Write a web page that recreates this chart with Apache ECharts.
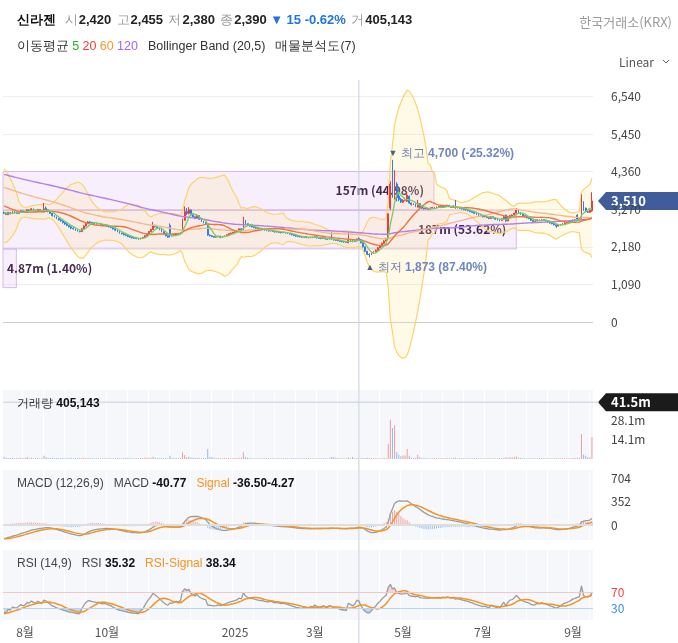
<!DOCTYPE html>
<html>
<head>
<meta charset="utf-8">
<script src="https://cdn.jsdelivr.net/npm/echarts@6.0.0/dist/echarts.min.js"></script>
<style>
html,body{margin:0;padding:0;background:#fff;}
#chart{width:678px;height:643px;}
</style>
</head>
<body>
<div id="chart"></div>
<script>
// ================= DATA =================
const firstDay = '2024-07-18';
const tradingDays = 281;
const holidays = ['2024-08-15','2024-09-16','2024-09-17','2024-09-18','2024-10-01','2024-10-03','2024-10-09','2024-12-25','2024-12-31','2025-01-01','2025-01-27','2025-01-28','2025-01-29','2025-01-30','2025-03-03','2025-05-01','2025-05-05','2025-05-06','2025-06-03','2025-06-06','2025-08-15'];
const labelMonths = ['2024-08','2024-10','2025-01','2025-03','2025-05','2025-07','2025-09'];

// closes before the visible window (estimated from where MA20/60/120 and the band start)
const priorCloses = [5100,5060,5120,5080,5020,4990,5040,5000,4960,4930,4980,4950,4900,4870,4920,4880,4840,4810,4860,4820,4780,4750,4800,4760,4720,4700,4740,4700,4660,4630,4680,4640,4600,4580,4620,4590,4550,4520,4560,4530,4490,4470,4510,4480,4440,4420,4460,4430,4390,4370,4410,4380,4340,4320,4360,4330,4290,4270,4300,4260,
4450,4420,4460,4400,4380,4410,4360,4340,4370,4320,4300,4330,4280,4260,4290,4240,4220,4250,4200,4180,4210,4160,4140,4170,4120,4100,4130,4080,4060,4090,4040,4020,4050,4000,3980,4010,3960,3940,3970,3920,
3750,3700,3720,3680,3650,3620,3600,3580,
3400,3300,3250,3220,3200,3230,3180,3200,3170,3190,3160,3180];

// [open, close, low, high]
const candles = [
[3180,3150,3130,3200],[3160,3120,3100,3170],[3110,3180,3100,3190],[3170,3140,3120,3180],[3140,3200,3130,3220],
[3200,3170,3150,3210],[3170,3150,3130,3180],[3150,3190,3140,3200],[3190,3220,3180,3240],[3220,3180,3170,3230],
[3180,3200,3170,3220],[3200,3250,3190,3270],[3250,3230,3210,3260],[3230,3280,3220,3300],[3280,3240,3230,3290],
[3240,3210,3200,3250],[3210,3260,3200,3280],[3260,3230,3220,3270],[3230,3190,3180,3240],[3190,3280,3180,3450],
[3300,3250,3230,3350],[3250,3200,3180,3260],[3200,3150,3130,3210],[3150,3080,3060,3160],[3080,3050,3030,3100],
[3050,3000,2980,3060],[3000,2960,2940,3020],[2960,2930,2910,2980],[2930,2880,2860,2940],[2880,2840,2820,2900],
[2840,2800,2780,2860],[2800,2760,2740,2810],[2760,2720,2700,2780],[2720,2700,2680,2740],[2700,2660,2640,2710],
[2660,2640,2620,2680],[2640,2620,2600,2650],[2620,2700,2610,2720],[2700,2780,2690,2800],[2780,2850,2770,2870],
[2850,2900,2840,2930],[2900,2890,2870,2920],[2890,2870,2850,2900],[2870,2860,2840,2890],[2860,2840,2820,2870],
[2840,2850,2830,2870],[2850,2820,2800,2860],[2820,2800,2780,2830],[2800,2810,2790,2830],[2810,2780,2760,2820],
[2780,2760,2740,2790],[2760,2740,2720,2770],[2740,2700,2680,2750],[2700,2660,2640,2710],[2660,2620,2600,2670],
[2620,2580,2560,2630],[2580,2560,2540,2590],[2560,2530,2510,2570],[2530,2510,2490,2540],[2510,2480,2460,2520],
[2480,2460,2440,2490],[2460,2440,2420,2470],[2440,2430,2410,2450],[2430,2420,2400,2440],[2420,2400,2380,2430],
[2400,2430,2390,2440],[2430,2450,2420,2470],[2450,2500,2440,2510],[2500,2560,2490,2570],[2560,2620,2550,2640],
[2620,2680,2610,2700],[2680,2800,2670,2900],[2800,2760,2740,2820],[2760,2720,2700,2770],[2720,2680,2660,2730],
[2680,2620,2600,2690],[2620,2560,2540,2630],[2560,2500,2480,2570],[2500,2460,2440,2510],[2800,2520,2450,2860],
[2520,2500,2480,2540],[2500,2530,2490,2550],[2530,2550,2520,2570],[2550,2540,2520,2560],[2540,2570,2530,2590],
[2580,2950,2570,3000],[2950,3200,2940,3350],[3200,3150,3100,3300],[3150,3250,3120,3330],[3250,3100,3080,3260],
[3100,3050,3020,3120],[3050,3000,2980,3060],[3000,3080,2990,3120],[3080,2980,2960,3090],[2980,2920,2900,2990],
[2920,2880,2860,2930],[2880,2850,2830,2890],[2850,2520,2500,2860],[2520,2500,2480,2540],[2500,2480,2460,2510],
[2480,2460,2440,2490],[2460,2470,2450,2490],[2470,2490,2460,2500],[2490,2450,2430,2500],[2450,2480,2440,2490],
[2480,2500,2470,2510],[2500,2530,2490,2540],[2530,2560,2520,2570],[2560,2580,2550,2590],[2580,2600,2570,2610],
[2600,2620,2590,2630],[2620,2650,2610,2660],[2650,2700,2640,2710],[2700,2680,2660,2720],[2680,2950,2670,3050],
[2950,2850,2830,2960],[2850,2800,2780,2860],[2800,2780,2760,2810],[2780,2760,2740,2790],[2760,2740,2720,2770],
[2740,2720,2700,2750],[2720,2700,2680,2730],[2700,2680,2660,2710],[2680,2690,2670,2700],[2690,2660,2640,2700],
[2660,2650,2630,2670],[2650,2640,2620,2660],[2640,2660,2630,2670],[2660,2630,2610,2670],[2630,2610,2590,2640],
[2610,2620,2600,2640],[2620,2600,2580,2630],[2600,2590,2570,2610],[2590,2600,2580,2620],[2600,2580,2560,2610],
[2580,2570,2550,2590],[2570,2550,2530,2580],[2550,2530,2510,2560],[2530,2510,2490,2540],[2510,2490,2470,2520],
[2490,2480,2460,2500],[2480,2470,2450,2490],[2470,2460,2440,2480],[2460,2480,2450,2490],[2480,2450,2430,2490],
[2450,2440,2420,2460],[2440,2460,2430,2470],[2460,2450,2430,2470],[2450,2470,2440,2480],[2470,2440,2420,2480],
[2440,2430,2410,2450],[2430,2420,2400,2440],[2420,2440,2410,2450],[2440,2410,2390,2450],[2410,2400,2380,2420],
[2400,2420,2390,2430],[2580,2400,2380,2600],[2400,2380,2360,2410],[2380,2370,2350,2390],[2370,2360,2340,2380],
[2360,2340,2320,2370],[2340,2330,2310,2350],[2330,2320,2300,2340],[2320,2310,2290,2330],[2300,2380,2280,2600],
[2380,2360,2340,2390],[2360,2330,2310,2370],[2330,2350,2320,2370],[2350,2405,2340,2420],[2420,2390,2380,2455],
[2390,2300,2280,2400],[2300,2180,2160,2310],[2180,2050,2030,2190],[2050,1960,1940,2060],[1960,1950,1873,1990],
[1950,1990,1940,2010],[1990,2040,1980,2060],[2040,2080,2030,2100],[2080,2150,2070,2170],[2150,2200,2140,2220],
[2200,2280,2190,2300],[2280,2350,2270,2370],[2350,2420,2340,2440],[2450,3140,2440,3140],[3300,4000,3250,4080],
[4400,3700,3600,4700],[3700,4000,3550,4400],[4000,3600,3500,4050],[3650,3550,3500,3800],[3560,3480,3450,3600],
[3470,3520,3450,3560],[3520,3560,3500,3600],[3500,3680,3480,3750],[3650,3450,3430,3660],[3450,3400,3380,3460],
[3400,3420,3390,3440],[3420,3350,3330,3430],[3330,3430,3320,3540],[3430,3330,3310,3440],[3330,3300,3280,3340],
[3300,3280,3260,3310],[3280,3290,3270,3310],[3290,3270,3250,3300],[3270,3300,3260,3320],[3300,3320,3290,3340],
[3320,3300,3280,3330],[3300,3330,3290,3350],[3330,3350,3320,3370],[3350,3320,3300,3360],[3320,3360,3310,3380],
[3360,3340,3320,3370],[3340,3380,3330,3400],[3380,3350,3330,3390],[3350,3330,3310,3360],[3330,3360,3320,3380],
[3450,3300,3280,3540],[3300,3320,3290,3340],[3320,3300,3280,3330],[3300,3280,3260,3310],[3280,3260,3240,3290],
[3260,3250,3230,3270],[3250,3230,3210,3260],[3230,3200,3180,3240],[3200,3180,3160,3210],[3180,3150,3130,3190],
[3150,3120,3100,3160],[3120,3100,3080,3130],[3100,3080,3060,3110],[3080,3050,3030,3090],[3050,3060,3040,3080],
[3060,3030,3010,3070],[3030,3000,2980,3040],[3000,3050,2990,3070],[3050,3020,3000,3060],[3020,2980,2960,3030],
[2980,2960,2940,2990],[2960,2940,2920,2970],[2940,2990,2930,3010],[2990,3050,2980,3070],[3100,2930,2910,3110],
[2930,3020,2920,3040],[3020,3080,3010,3100],[3080,3100,3070,3120],[3100,3150,3090,3170],[3150,3250,3140,3300],
[3250,3180,3160,3260],[3180,3120,3100,3190],[3120,3080,3060,3130],[3080,3050,3030,3090],[3050,3020,3000,3060],
[3020,3000,2980,3030],[3000,2950,2930,3010],[2950,2920,2900,2960],[2920,2930,2910,2950],[2930,2960,2920,2980],
[2960,2940,2920,2970],[2940,2970,2930,2990],[2970,2950,2930,2980],[2950,2930,2910,2960],[2930,2900,2880,2940],
[2900,2870,2850,2910],[2870,2850,2830,2880],[2850,2820,2800,2860],[2820,2780,2730,2830],[2780,2800,2770,2820],
[2800,2820,2790,2840],[2820,2850,2810,2870],[2850,2870,2840,2890],[2870,2880,2860,2900],[2880,2900,2870,2920],
[2900,2920,2890,2940],[2920,2950,2910,2970],[2950,2960,2940,2980],[3100,2980,2960,3120],[2980,2990,2970,3010],
[3000,3600,2980,3700],[3450,3250,3220,3500],[3300,3200,3180,3320],[3200,3180,3160,3230],[3180,3240,3170,3260],
[3220,3510,3200,3760]
];

// volume, millions of shares
const volumes = [
1.5,0.9,0.8,0.7,0.9,0.6,0.7,0.8,0.9,0.7, 0.8,1.5,0.7,0.9,0.6,0.7,0.8,0.6,0.7,2.4,
1.2,0.8,0.7,0.9,0.6,0.7,0.6,0.5,0.7,0.6, 0.6,0.7,1.0,0.6,0.5,0.6,0.7,0.8,0.9,0.7,
0.8,0.6,0.5,0.6,0.5,0.6,0.5,0.6,0.5,0.6, 0.5,0.6,0.5,0.6,0.7,0.6,0.5,0.6,0.7,1.0,
0.6,0.5,0.6,0.7,0.6,0.7,0.8,1.0,1.1,1.0, 0.9,1.6,0.9,0.7,0.6,0.7,0.6,0.7,0.6,2.4,
0.9,0.8,0.7,0.6,0.8,4.9,2.9,1.4,1.6,1.1, 0.9,0.8,0.9,0.7,0.6,0.6,0.7,7.3,1.5,1.4,
1.0,0.8,0.7,0.6,0.6,0.7,0.6,0.7,0.6,0.7, 0.8,0.7,0.9,1.0,4.9,1.5,0.9,0.7,0.6,0.6,
0.6,0.5,0.6,0.5,0.5,0.6,0.5,0.5,0.6,0.5, 0.5,0.5,0.6,0.5,0.5,0.5,0.6,0.5,0.5,0.5,
0.5,0.6,0.5,0.5,0.5,0.5,0.6,0.5,0.5,0.5, 0.5,0.5,0.6,0.5,0.5,0.6,1.5,1.2,1.0,0.8,
0.6,0.6,0.5,0.6,1.2,0.7,1.5,0.6,0.7,0.405, 0.6,0.7,0.8,0.9,0.8,0.6,0.5,0.5,0.6,0.6,
0.6,0.7,0.8,11,28.6,22.7,24.4,5.1,3.2,2.0, 2.5,2.5,7.3,2.4,1.0,0.8,0.8,3.1,1.2,0.8,
0.7,0.6,0.6,0.6,0.6,0.6,0.6,0.6,0.6,0.7, 0.6,0.7,0.6,0.6,0.7,1.0,0.6,0.5,0.5,0.5,
0.5,0.5,0.5,0.5,0.5,0.5,0.5,0.5,0.5,0.5, 0.5,0.5,0.6,0.5,0.5,0.5,0.5,0.6,0.8,1.2,
1.0,1.3,1.1,1.2,1.8,1.0,0.8,0.6,0.6,0.5, 0.5,0.5,0.5,0.5,0.5,0.5,0.5,0.5,0.5,0.5,
0.5,0.5,0.5,0.6,0.5,0.5,0.5,0.5,0.5,0.6, 0.6,0.7,0.8,1.0,0.8,18.2,3.2,2.4,1.2,1.2,
16
];

// volume profile (매물분석도 7) — price bins with volume
const profileLow  = [997, 2119, 3242];
const profileHigh = [2119, 3242, 4364];
const profileVol  = [4.87, 187, 157];     // millions
const profilePct  = [1.40, 53.62, 44.98];

const priceTicks  = [0,1090,2180,3270,4360,5450,6540];
const volumeTicks = [14.1, 28.1];
const macdTicks   = [0,352,704];
const rsiTicks    = [30,70];

// hovered (crosshair) day and header readout
const hoverIndex = 169;
const hoverVolumeLevel = 41.5;
const header = {name:'신라젠', open:'2,420', high:'2,455', low:'2,380', close:'2,390', chg:'▼ 15 -0.62%', vol:'405,143'};
const macdReadout = {macd:'-40.77', signal:'-36.50', osc:'-4.27'};
const rsiReadout = {rsi:'35.32', signal:'38.34'};

// ================= BUILD =================
function buildDates(start, n, hol) {
  const hs = new Set(hol); const out = [];
  const d = new Date(start + 'T00:00:00Z');
  while (out.length < n) {
    const wd = d.getUTCDay();
    const s = d.toISOString().slice(0,10);
    if (wd !== 0 && wd !== 6 && !hs.has(s)) out.push(s);
    d.setUTCDate(d.getUTCDate()+1);
  }
  return out;
}
const categories = buildDates(firstDay, tradingDays, holidays);
const labelIdx = new Set();
labelMonths.forEach(m => { const i = categories.findIndex(c => c.startsWith(m)); if (i >= 0) labelIdx.add(i); });

const P = priorCloses.length;
const allClose = priorCloses.concat(candles.map(c => c[1]));
function sma(n) {
  return candles.map((_, i) => { const j = i + P; let s = 0; for (let k = j-n+1; k <= j; k++) s += allClose[k]; return +(s/n).toFixed(2); });
}
const ma5 = sma(5), ma20 = sma(20), ma60 = sma(60), ma120 = sma(120);
const bbUp = [], bbLo = [];
candles.forEach((_, i) => {
  const j = i + P; const m = ma20[i]; let v = 0;
  for (let k = j-19; k <= j; k++) v += (allClose[k]-m)*(allClose[k]-m);
  const sd = Math.sqrt(v/20);
  bbUp.push(+(m + 5*sd).toFixed(2)); bbLo.push(+(m - 5*sd).toFixed(2));
});
// MACD 12,26,9
let e12 = allClose[0], e26 = allClose[0], sig = 0; const macdAll = [], sigAll = [];
allClose.forEach((c, k) => {
  e12 += (c - e12) * 2/13; e26 += (c - e26) * 2/27;
  const m = e12 - e26; sig = k === 0 ? m : sig + (m - sig) * 2/10;
  macdAll.push(m); sigAll.push(sig);
});
const macd = macdAll.slice(P).map(v => +v.toFixed(2));
const macdSig = sigAll.slice(P).map(v => +v.toFixed(2));
const macdHist = macd.map((v, i) => +(v - macdSig[i]).toFixed(2));
// RSI 14 (Wilder), signal 9
const rsiAll = new Array(allClose.length).fill(null);
let ag = 0, al = 0;
for (let k = 1; k < allClose.length; k++) {
  const ch = allClose[k] - allClose[k-1]; const g = Math.max(ch,0), l = Math.max(-ch,0);
  if (k <= 14) { ag += g/14; al += l/14; if (k === 14) rsiAll[k] = 100 - 100/(1 + ag/(al||1e-9)); }
  else { ag = (ag*13 + g)/14; al = (al*13 + l)/14; rsiAll[k] = 100 - 100/(1 + ag/(al||1e-9)); }
}
const rsiSigAll = rsiAll.map((v, k) => { if (k < 22) return null; let s = 0; for (let q = k-8; q <= k; q++) s += rsiAll[q]; return s/9; });
const rsi = rsiAll.slice(P).map(v => +v.toFixed(2));
const rsiSig = rsiSigAll.slice(P).map(v => +v.toFixed(2));
const rsiHigh = rsi.map(v => Math.max(v, 70));
const rsiLow = rsi.map(v => Math.min(v, 30));

const UP = '#ee3a3a', DOWN = '#2b7fe6';
const FONT = '"Noto Sans CJK KR","Noto Sans",sans-serif';
const fmt = v => Math.round(v).toLocaleString('en-US');

const GL = 3, GR = 85;
const grids = [
  {left:GL, right:GR, top:80, height:305},
  {left:GL, right:GR, top:390, height:69, show:true, backgroundColor:'#f6f7fb', borderWidth:0},
  {left:GL, right:GR, top:470, height:70, show:true, backgroundColor:'#f6f7fb', borderWidth:0},
  {left:GL, right:GR, top:550, height:70, show:true, backgroundColor:'#f6f7fb', borderWidth:0}
];
function catAxis(gi) {
  return {
    type:'category', gridIndex:gi, data:categories, boundaryGap:true,
    axisLine:{show:false}, axisTick:{show:false},
    axisLabel: gi === 3 ? {
      show:true, margin:6, color:'#555', fontSize:12, fontFamily:FONT,
      interval:(i) => labelIdx.has(i),
      formatter:(v) => { const m = +v.slice(5,7); return m === 1 ? v.slice(0,4) : m + '월'; }
    } : {show:false},
    splitLine: gi === 0 ? {show:false} : {show:true, interval:(i) => i % 10 === 9, lineStyle:{color:'#ffffff', width:1}}
  };
}
const maxProfile = Math.max(...profileVol);

const option = {
  animation:false,
  textStyle:{fontFamily:FONT},
  grid:grids,
  xAxis:[catAxis(0), catAxis(1), catAxis(2), catAxis(3),
    {type:'value', gridIndex:0, min:0, max:maxProfile/0.87, show:false}],
  yAxis:[
    {type:'value', gridIndex:0, position:'right', min:-1826, max:7015,
     axisLine:{show:false}, axisTick:{show:false, customValues:priceTicks},
     axisLabel:{customValues:priceTicks, margin:18, color:'#444', fontSize:12, formatter:fmt},
     splitLine:{show:true, lineStyle:{color:['#cfcfcf','#eeeeee','#eeeeee','#eeeeee','#eeeeee','#eeeeee','#eeeeee'], width:1}}},
    {type:'value', gridIndex:1, position:'right', min:0, max:50.4,
     axisLine:{show:false}, axisTick:{show:false, customValues:volumeTicks},
     axisLabel:{customValues:volumeTicks, margin:18, color:'#444', fontSize:12, formatter:v => v + 'm'},
     splitLine:{show:false}},
    {type:'value', gridIndex:2, position:'right', min:-226, max:830,
     axisLine:{show:false}, axisTick:{show:false, customValues:macdTicks},
     axisLabel:{customValues:macdTicks, margin:18, color:'#444', fontSize:12},
     splitLine:{show:false}},
    {type:'value', gridIndex:3, position:'right', min:0, max:175,
     axisLine:{show:false}, axisTick:{show:false, customValues:rsiTicks},
     axisLabel:{customValues:rsiTicks, margin:18, fontSize:12, color:(v) => (+v >= 50 ? '#ef4444' : '#3b8cf0')},
     splitLine:{show:false}}
  ],
  series:[
    {type:'custom', name:'profile', xAxisIndex:4, yAxisIndex:0, z:1, silent:true,
     data: profileLow.map((lo, i) => [profileVol[i], lo, profileHigh[i], profilePct[i]]),
     renderItem:(params, api) => {
       const vol = api.value(0), lo = api.value(1), hi = api.value(2), pct = api.value(3);
       const cs = params.coordSys;
       const pTop = api.coord([vol, hi]), pBot = api.coord([vol, lo]);
       const x0 = cs.x, w = pTop[0] - x0, y0 = pTop[1], h = pBot[1] - pTop[1];
       const volTxt = (vol >= 100 ? Math.round(vol) : vol.toFixed(2)) + 'm';
       const txt = volTxt + ' (' + pct.toFixed(2) + '%)';
       const wide = w > 110;
       return {type:'group', children:[
         {type:'rect', shape:{x:x0, y:y0, width:w, height:h},
          style:{fill:'rgba(226,196,242,0.28)', stroke:'rgba(205,165,228,0.75)', lineWidth:1}},
         {type:'text', x: wide ? x0 + w - 10 : x0 + 4, y: y0 + h/2,
          style:{text:txt, align: wide ? 'right' : 'left', verticalAlign:'middle', fill:'#46294f',
                 font:'bold 12px ' + FONT}}
       ]};
     }},
    {type:'line', name:'bbBase', data:bbLo, stack:'bb', stackStrategy:'all', symbol:'none', lineStyle:{width:0, opacity:0}, silent:true, z:2},
    {type:'line', name:'bbFill', data:bbUp.map((u, i) => +(u - bbLo[i]).toFixed(2)), stack:'bb', stackStrategy:'all', symbol:'none',
     lineStyle:{width:0, opacity:0}, areaStyle:{color:'rgba(255,225,140,0.28)'}, silent:true, z:2},
    {type:'line', name:'bbUpper', data:bbUp, symbol:'none', lineStyle:{color:'#fbd46a', width:1.2}, silent:true, z:3},
    {type:'line', name:'bbLower', data:bbLo, symbol:'none', lineStyle:{color:'#fbd46a', width:1.2}, silent:true, z:3},
    {type:'candlestick', name:'price', data:candles, barWidth:'62%', z:4,
     itemStyle:{color:UP, color0:DOWN, borderColor:UP, borderColor0:DOWN, borderWidth:1}},
    {type:'line', name:'MA120', data:ma120, symbol:'none', lineStyle:{color:'#b27ff0', width:1.4}, z:5},
    {type:'line', name:'MA60', data:ma60, symbol:'none', lineStyle:{color:'#f8b888', width:1.4}, z:5},
    {type:'line', name:'MA20', data:ma20, symbol:'none', lineStyle:{color:'#f2713c', width:1.4}, z:5},
    {type:'line', name:'MA5', data:ma5, symbol:'none', lineStyle:{color:'#6fd06a', width:1.3}, z:5},
    {type:'bar', name:'volume', xAxisIndex:1, yAxisIndex:1, barWidth:1,
     data: volumes.map((v, i) => ({value:v, itemStyle:{color: candles[i][1] >= candles[i][0] ? '#f09c9c' : '#8fbcf0'}}))},
    {type:'bar', name:'macdHist', xAxisIndex:2, yAxisIndex:2, barWidth:1,
     data: macdHist.map(v => ({value:v, itemStyle:{color: v >= 0 ? '#f2a3a3' : '#94c0f2'}})),
     markLine:{silent:true, symbol:'none', label:{show:false}, lineStyle:{color:'#dedede', width:2, type:'solid'}, data:[{yAxis:0}]}},
    {type:'line', name:'MACD', xAxisIndex:2, yAxisIndex:2, data:macd, symbol:'none', lineStyle:{color:'#9c9c9c', width:1.3}},
    {type:'line', name:'Signal', xAxisIndex:2, yAxisIndex:2, data:macdSig, symbol:'none', lineStyle:{color:'#f7931e', width:1.5}},
    {type:'line', name:'rsiOver', xAxisIndex:3, yAxisIndex:3, data:rsiHigh, symbol:'none', lineStyle:{width:0, opacity:0},
     areaStyle:{color:'rgba(240,150,165,0.55)', origin:70}, silent:true,
     markLine:{silent:true, symbol:'none', label:{show:false}, data:[
       {yAxis:70, lineStyle:{color:'#f6c6c6', width:1, type:'solid'}},
       {yAxis:30, lineStyle:{color:'#bcd4f4', width:1, type:'solid'}}]}},
    {type:'line', name:'rsiUnder', xAxisIndex:3, yAxisIndex:3, data:rsiLow, symbol:'none', lineStyle:{width:0, opacity:0},
     areaStyle:{color:'rgba(110,160,225,0.55)', origin:30}, silent:true},
    {type:'line', name:'RSI', xAxisIndex:3, yAxisIndex:3, data:rsi, symbol:'none', lineStyle:{color:'#9c9c9c', width:1.3}},
    {type:'line', name:'RSI-Signal', xAxisIndex:3, yAxisIndex:3, data:rsiSig, symbol:'none', lineStyle:{color:'#f7931e', width:1.5}}
  ]
};

const chart = echarts.init(document.getElementById('chart'), null, {renderer:'canvas'});
chart.setOption(option);

// ---------- overlays positioned from data ----------
const lastIdx = candles.length - 1;
const lastClose = candles[lastIdx][1];
let hiIdx = 0, loIdx = 0;
candles.forEach((c, i) => { if (c[3] > candles[hiIdx][3]) hiIdx = i; if (c[2] < candles[loIdx][2]) loIdx = i; });
const hiVal = candles[hiIdx][3], loVal = candles[loIdx][2];
const pctFrom = v => ((lastClose - v) / v * 100).toFixed(2);

const hx = chart.convertToPixel({xAxisIndex:0}, categories[hoverIndex]);
const vy = chart.convertToPixel({yAxisIndex:1}, hoverVolumeLevel);
const py = chart.convertToPixel({yAxisIndex:0}, lastClose);
const hiPt = chart.convertToPixel({xAxisIndex:0, yAxisIndex:0}, [categories[hiIdx], hiVal]);
const loPt = chart.convertToPixel({xAxisIndex:0, yAxisIndex:0}, [categories[loIdx], loVal]);
const gridRight = 678 - GR;

function tag(y, color, text) {
  return {type:'group', z:100, children:[
    {type:'polygon', shape:{points:[[gridRight+5, y],[gridRight+13, y-9],[678, y-9],[678, y+9],[gridRight+13, y+9]]}, style:{fill:color}},
    {type:'text', x:gridRight+18, y:y, style:{text:text, fill:'#fff', font:'bold 13px ' + FONT, verticalAlign:'middle'}}
  ]};
}
const K = '#9a9a9a';
chart.setOption({graphic:[
  {type:'line', z:1, shape:{x1:hx, y1:80, x2:hx, y2:643}, style:{stroke:'#c8cedd', lineWidth:1}},
  {type:'line', z:1, shape:{x1:GL, y1:vy, x2:gridRight + 6, y2:vy}, style:{stroke:'#c8cedd', lineWidth:1}},
  tag(vy, '#1b1b1b', hoverVolumeLevel + 'm'),
  tag(py, '#405c9a', fmt(lastClose)),
  {type:'text', z:50, x:hiPt[0] - 4, y:hiPt[1] - 6, style:{
    text:'{a|▼} {b|최고} {c|' + fmt(hiVal) + ' (' + pctFrom(hiVal) + '%)}', verticalAlign:'middle',
    rich:{a:{fill:'#4a5d8c', fontSize:9}, b:{fill:'#6d7ea8', fontSize:12}, c:{fill:'#6f86c0', fontSize:12, fontWeight:'bold'}}}},
  {type:'text', z:50, x:loPt[0] - 4, y:loPt[1] + 10, style:{
    text:'{a|▲} {b|최저} {c|' + fmt(loVal) + ' (' + pctFrom(loVal) + '%)}', verticalAlign:'middle',
    rich:{a:{fill:'#4a5d8c', fontSize:9}, b:{fill:'#6d7ea8', fontSize:12}, c:{fill:'#6f86c0', fontSize:12, fontWeight:'bold'}}}},
  // header
  {type:'text', x:17, y:20, style:{verticalAlign:'middle',
    text:'{n|' + header.name + '}  {k|시}{v|' + header.open + '} {k|고}{v|' + header.high + '} {k|저}{v|' + header.low + '} {k|종}{v|' + header.close + '} {d|' + header.chg + '} {k|거}{v|' + header.vol + '}',
    rich:{n:{fontSize:13, fontWeight:'bold', fill:'#111'}, k:{fontSize:13, fill:'#9a9a9a', padding:[0,1,0,2]}, v:{fontSize:13, fontWeight:'bold', fill:'#222'}, d:{fontSize:13, fontWeight:'bold', fill:'#1e74e0'}}}},
  {type:'text', x:672, y:22, style:{text:'한국거래소(KRX)', align:'right', verticalAlign:'middle', fill:'#9a9a9a', font:'13px ' + FONT}},
  {type:'text', x:17, y:47, style:{verticalAlign:'middle',
    text:'{t|이동평균} {g|5} {r|20} {o|60} {p|120}   {t|Bollinger Band (20,5)}   {t|매물분석도(7)}',
    rich:{t:{fontSize:12.5, fill:'#333'}, g:{fontSize:12.5, fill:'#22b822'}, r:{fontSize:12.5, fill:'#f03c3c'}, o:{fontSize:12.5, fill:'#f59a30'}, p:{fontSize:12.5, fill:'#a862f5'}}}},
  {type:'text', x:654, y:62, style:{text:'Linear', align:'right', verticalAlign:'middle', fill:'#555', font:'12px ' + FONT}},
  {type:'polyline', shape:{points:[[663,60],[666,63],[669,60]]}, style:{stroke:'#666', lineWidth:1, fill:null}},
  // panel readouts
  {type:'text', z:50, x:17, y:404, style:{verticalAlign:'middle', text:'{k|거래량} {v|' + header.vol + '}',
    rich:{k:{fontSize:12, fill:'#333'}, v:{fontSize:12, fontWeight:'bold', fill:'#111'}}}},
  {type:'text', z:50, x:17, y:484, style:{verticalAlign:'middle',
    text:'{k|MACD (12,26,9)}   {k|MACD} {v|' + macdReadout.macd + '}   {o|Signal} {v|' + macdReadout.signal + macdReadout.osc + '}',
    rich:{k:{fontSize:12, fill:'#444'}, v:{fontSize:12, fontWeight:'bold', fill:'#111'}, o:{fontSize:12, fill:'#f7931e'}}}},
  {type:'text', z:50, x:17, y:564, style:{verticalAlign:'middle',
    text:'{k|RSI (14,9)}   {k|RSI} {v|' + rsiReadout.rsi + '}   {o|RSI-Signal} {v|' + rsiReadout.signal + '}',
    rich:{k:{fontSize:12, fill:'#444'}, v:{fontSize:12, fontWeight:'bold', fill:'#111'}, o:{fontSize:12, fill:'#f7931e'}}}}
]});
</script>
</body>
</html>
